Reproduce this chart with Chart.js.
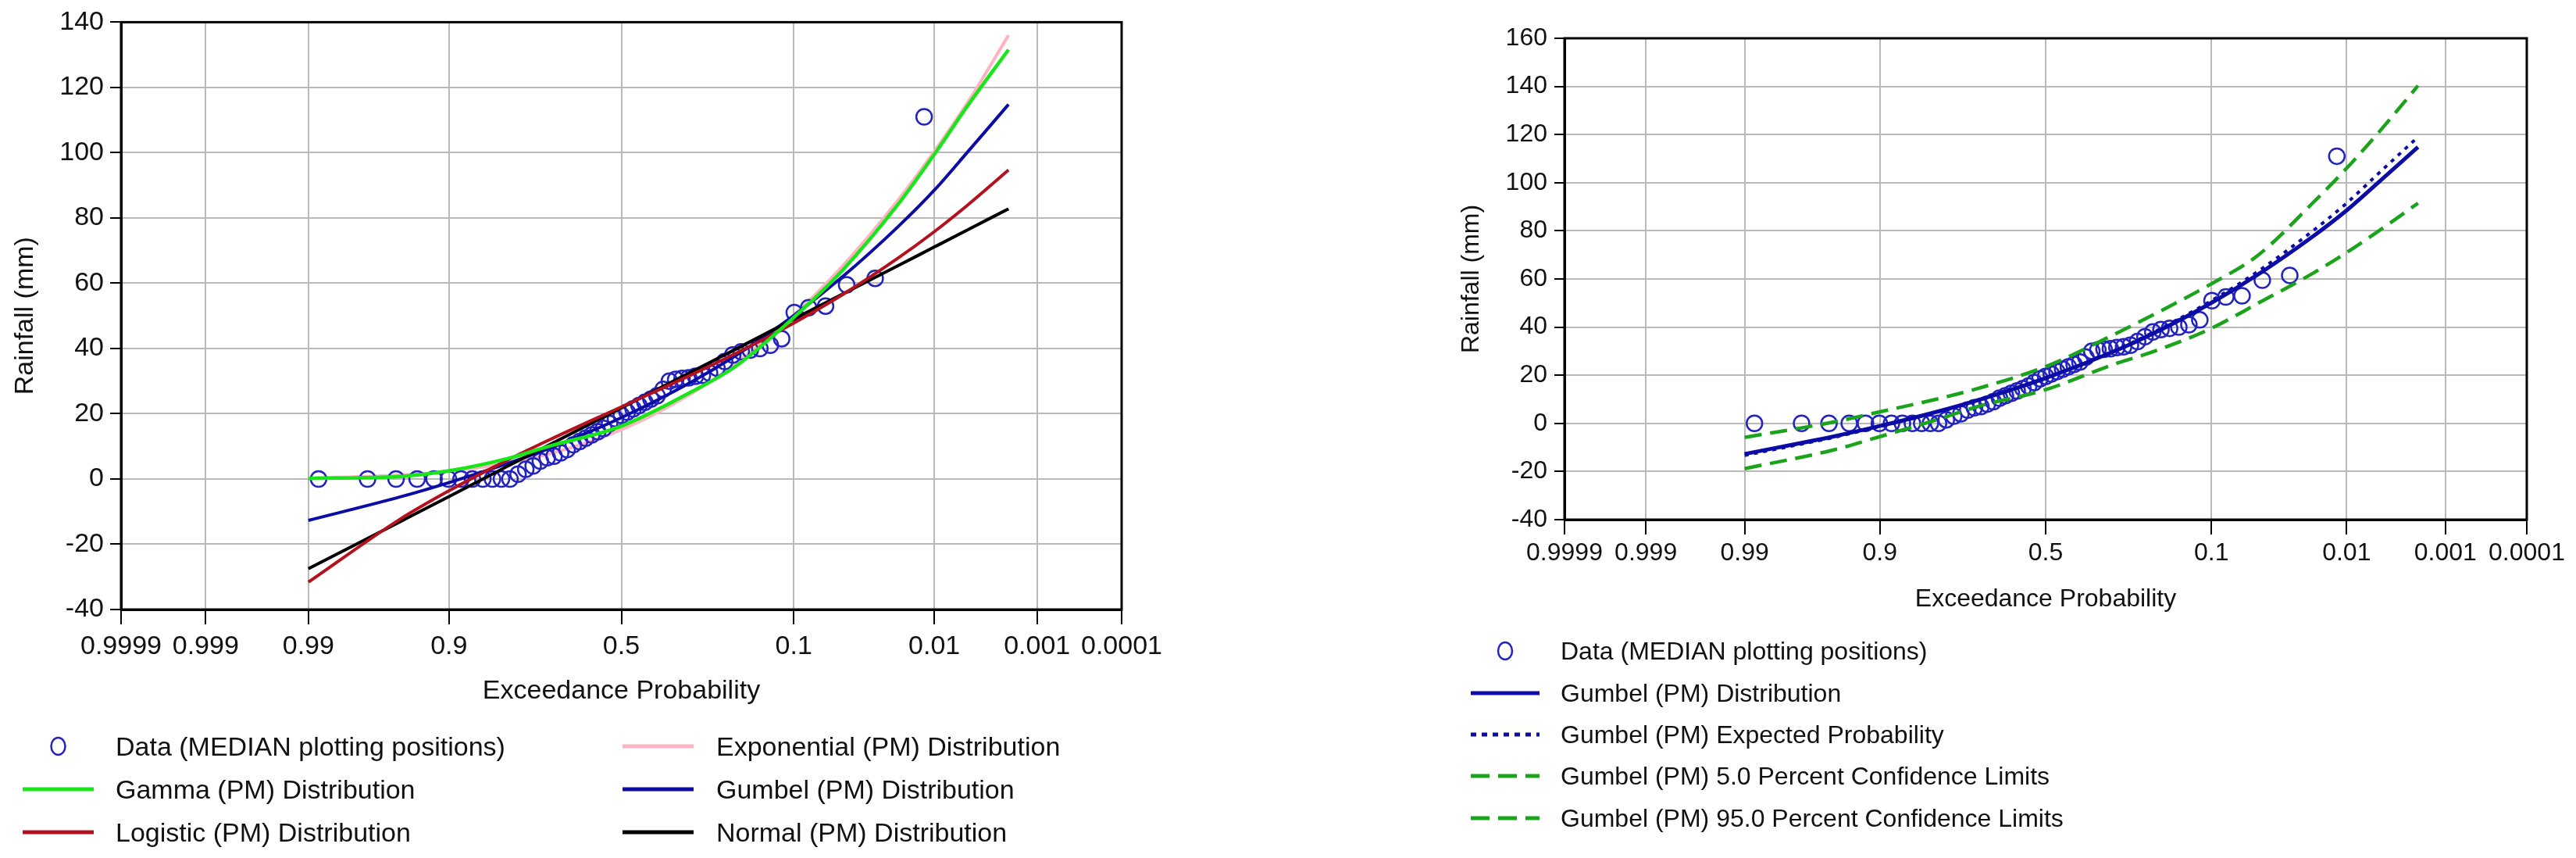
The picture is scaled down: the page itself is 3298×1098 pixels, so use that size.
<!DOCTYPE html>
<html>
<head>
<meta charset="utf-8">
<title>Rainfall frequency curves</title>
<script src="https://cdn.jsdelivr.net/npm/chart.js@4.4.1/dist/chart.umd.min.js"></script>
<style>
  body { margin: 0; width: 3298px; height: 1098px; overflow: hidden; position: relative; background: #fff;
         font-family: 'Liberation Sans', Arial, sans-serif; color: #111; }
  canvas { position: absolute; top: 0; }
  #leftChart { left: 0; }
  #rightChart { left: 1800px; }
  .lg { position: absolute; display: flex; align-items: center; white-space: nowrap; height: 50px; }
  .lg svg { flex: none; }
</style>
</head>
<body>
<canvas id="leftChart" width="1500" height="1098"></canvas>
<canvas id="rightChart" width="1498" height="1098"></canvas>
<div id="legends"></div>
<script>
// Probability axis ticks (exceedance probability)
var tickProbs = [0.9999, 0.999, 0.99, 0.9, 0.5, 0.1, 0.01, 0.001, 0.0001];
var tickLabels = ['0.9999', '0.999', '0.99', '0.9', '0.5', '0.1', '0.01', '0.001', '0.0001'];

// Observed rainfall (mm), largest first, with median plotting positions
var plotProbs = [0.0122, 0.0296, 0.0470, 0.0645, 0.0819, 0.0993, 0.1167, 0.1341, 0.1516, 0.1690,
                 0.1864, 0.2038, 0.2213, 0.2387, 0.2561, 0.2735, 0.2909, 0.3084, 0.3258, 0.3432,
                 0.3606, 0.3780, 0.3955, 0.4129, 0.4303, 0.4477, 0.4652, 0.4826, 0.5000, 0.5174,
                 0.5348, 0.5523, 0.5697, 0.5871, 0.6045, 0.6220, 0.6394, 0.6568, 0.6742, 0.6916,
                 0.7091, 0.7265, 0.7439, 0.7613, 0.7787, 0.7962, 0.8136, 0.8310, 0.8484, 0.8659,
                 0.8833, 0.9007, 0.9181, 0.9355, 0.9530, 0.9704, 0.9878];
var rainfall = [111, 61.5, 59.5, 53, 52.5, 51, 43, 41, 40, 39.5,
                39, 38, 36, 34, 32.5, 31.8, 31.5, 31, 30.8, 30.5,
                30, 27.5, 25.5, 24.5, 23.5, 22.5, 21.5, 20.5, 19.5, 18.5,
                17, 15.5, 14.5, 13.5, 12.5, 11.5, 10.5, 9, 8, 7,
                6.5, 5.5, 4, 3, 1.5, 0, 0, 0, 0, 0,
                0, 0, 0, 0, 0, 0, 0];

// Fitted curves, read at these exceedance probabilities
var curveProbs = [0.99, 0.95, 0.9, 0.8, 0.7, 0.5, 0.3, 0.2, 0.1, 0.05, 0.02, 0.01, 0.005, 0.002];
var exponentialPM = [0.3, 1.2, 2.4, 4.9, 7.8, 15.1, 26.3, 35.1, 50.2, 65.3, 85.3, 100.4, 115.5, 136.0];
var gammaPM       = [0.2, 0.8, 2.5, 6.3, 10.2, 16.2, 26.8, 34.3, 49.5, 64.0, 84.0, 99.5, 114.5, 131.6];
var gumbelPM      = [-12.7, -5.5, -1.1, 4.8, 9.6, 18.8, 29.8, 37.6, 50.1, 62.0, 77.2, 88.5, 100.3, 114.8];
var logisticPM    = [-31.6, -12.3, -3.6, 5.9, 12.2, 22.1, 32.0, 38.3, 47.8, 56.5, 67.6, 75.8, 84.0, 94.7];
var normalPM      = [-27.5, -13.1, -5.4, 4.0, 10.7, 21.8, 32.9, 39.6, 49.0, 56.7, 65.3, 71.1, 76.4, 82.8];
var gumbelExpected = [-13.3, -5.9, -1.3, 4.7, 9.6, 18.9, 30.1, 38.1, 51.0, 63.3, 79.5, 91.5, 104.0, 119.0];
var gumbelCL05    = [-5.8, 0.5, 4.8, 10.1, 14.5, 23.6, 36.8, 45.4, 58.0, 70.0, 91.0, 106.0, 121.0, 140.3];
var gumbelCL95    = [-18.8, -11.1, -5.5, 1.5, 7.0, 14.0, 24.5, 30.0, 39.5, 50.0, 62.0, 71.0, 80.0, 91.5];

// Inverse standard normal CDF (Acklam), used for the probability-paper axis
function normInv(p) {
    var a = [-3.969683028665376e+01, 2.209460984245205e+02, -2.759285104469687e+02, 1.383577518672690e+02, -3.066479806614716e+01, 2.506628277459239e+00];
    var b = [-5.447609879822406e+01, 1.615858368580409e+02, -1.556989798598866e+02, 6.680131188771972e+01, -1.328068155288572e+01];
    var c = [-7.784894002430293e-03, -3.223964580411365e-01, -2.400758277161838e+00, -2.549732539343734e+00, 4.374664141464968e+00, 2.938163982698783e+00];
    var d = [7.784695709041462e-03, 3.224671290700398e-01, 2.445134137142996e+00, 3.754408661907416e+00];
    var q, r;
    if (p < 0.02425) {
        q = Math.sqrt(-2 * Math.log(p));
        return (((((c[0]*q+c[1])*q+c[2])*q+c[3])*q+c[4])*q+c[5]) / ((((d[0]*q+d[1])*q+d[2])*q+d[3])*q+1);
    }
    if (p <= 1 - 0.02425) {
        q = p - 0.5; r = q * q;
        return (((((a[0]*r+a[1])*r+a[2])*r+a[3])*r+a[4])*r+a[5])*q / (((((b[0]*r+b[1])*r+b[2])*r+b[3])*r+b[4])*r+1);
    }
    q = Math.sqrt(-2 * Math.log(1 - p));
    return -(((((c[0]*q+c[1])*q+c[2])*q+c[3])*q+c[4])*q+c[5]) / ((((d[0]*q+d[1])*q+d[2])*q+d[3])*q+1);
}

// exceedance probability -> axis position
function probX(p) {
    return normInv(1 - p);
}

function toPoints(probs, values) {
    return probs.map(function(p, i) { return { x: probX(p), y: values[i] }; });
}

var FONT = "'Liberation Sans', Arial, sans-serif";
Chart.defaults.font.family = FONT;
Chart.defaults.color = '#111';

// Black frame round the plot area (top and right sides too)
var framePlugin = {
    id: 'frame',
    afterDatasetsDraw: function(chart) {
        var ctx = chart.ctx, a = chart.chartArea;
        ctx.save();
        ctx.strokeStyle = '#000';
        ctx.lineWidth = 3;
        ctx.strokeRect(a.left, a.top, a.right - a.left, a.bottom - a.top);
        ctx.restore();
    }
};

function dataSet(order) {
    return {
        label: 'Data (MEDIAN plotting positions)',
        data: toPoints(plotProbs, rainfall),
        showLine: false,
        pointStyle: 'circle',
        pointRadius: 10,
        pointBorderWidth: 2.5,
        pointBorderColor: '#2323c0',
        pointBackgroundColor: 'rgba(0,0,0,0)',
        order: order
    };
}

function curveSet(label, values, color, width, dash, order) {
    return {
        label: label,
        data: toPoints(curveProbs, values),
        showLine: true,
        pointRadius: 0,
        borderColor: color,
        borderWidth: width,
        borderDash: dash,
        cubicInterpolationMode: 'monotone',
        order: order
    };
}

function makeChart(id, datasets, cfg) {
    return new Chart(document.getElementById(id), {
        type: 'scatter',
        data: { datasets: datasets },
        options: {
            responsive: false,
            animation: false,
            events: [],
            layout: { padding: cfg.padding },
            plugins: { legend: { display: false }, tooltip: { enabled: false } },
            scales: {
                x: {
                    type: 'linear',
                    min: probX(tickProbs[0]),
                    max: probX(tickProbs[tickProbs.length - 1]),
                    afterBuildTicks: function(scale) {
                        scale.ticks = tickProbs.map(function(p) { return { value: probX(p) }; });
                    },
                    afterFit: function(scale) { scale.height = cfg.xHeight; },
                    ticks: {
                        callback: function(v, i) { return tickLabels[i]; },
                        autoSkip: false, maxRotation: 0, minRotation: 0,
                        padding: cfg.xPad, color: '#111', font: { size: cfg.font }
                    },
                    grid: { color: '#b9b9b9', lineWidth: 2, tickColor: '#000', tickWidth: 2, tickLength: 19 },
                    border: { color: '#000', width: 3 },
                    title: { display: true, text: 'Exceedance Probability', color: '#111',
                             font: { size: cfg.font }, padding: { top: 0, bottom: 0 } }
                },
                y: {
                    type: 'linear',
                    min: -40,
                    max: cfg.yMax,
                    afterFit: function(scale) { scale.width = cfg.yWidth; },
                    ticks: { stepSize: 20, padding: cfg.yPad, color: '#111', font: { size: cfg.font } },
                    grid: { color: '#b9b9b9', lineWidth: 2, tickColor: '#000', tickWidth: 2, tickLength: cfg.yTick },
                    border: { color: '#000', width: 3 },
                    title: { display: true, text: 'Rainfall (mm)', color: '#111',
                             font: { size: cfg.font }, padding: { top: cfg.yTitlePad, bottom: 0 } }
                }
            }
        },
        plugins: [framePlugin]
    });
}

// Left chart: all fitted distributions
var leftSets = [
    dataSet(3),
    curveSet('Exponential (PM) Distribution', exponentialPM, '#ffb3c1', 4, [], 7),
    curveSet('Gamma (PM) Distribution', gammaPM, '#19e619', 4.5, [], 0),
    curveSet('Gumbel (PM) Distribution', gumbelPM, '#0b0ba6', 4, [], 2),
    curveSet('Logistic (PM) Distribution', logisticPM, '#b4101e', 4, [], 1),
    curveSet('Normal (PM) Distribution', normalPM, '#000000', 4, [], 1)
];

// Right chart: Gumbel with expected probability and confidence limits
var rightSets = [
    dataSet(5),
    curveSet('Gumbel (PM) Distribution', gumbelPM, '#0b0ba6', 5, [], 2),
    curveSet('Gumbel (PM) Expected Probability', gumbelExpected, '#0b0ba6', 4, [5, 7], 1),
    curveSet('Gumbel (PM) 5.0 Percent Confidence Limits', gumbelCL05, '#1ba31b', 4.5, [22, 11], 3),
    curveSet('Gumbel (PM) 95.0 Percent Confidence Limits', gumbelCL95, '#1ba31b', 4.5, [22, 11], 4)
];

var leftChart = makeChart('leftChart', leftSets, {
    padding: { left: 0, top: 28, right: 64, bottom: 192.6 },
    xHeight: 125.4, xPad: 8, yWidth: 155, yPad: 8, yTick: 14, yTitlePad: 12, yMax: 140, font: 34
});
var rightChart = makeChart('rightChart', rightSets, {
    padding: { left: 0, top: 49, right: 63, bottom: 311.8 },
    xHeight: 121.2, xPad: 5, yWidth: 203, yPad: 9, yTick: 13, yTitlePad: 65, yMax: 160, font: 32
});

// HTML legends built from the datasets
function swatch(ds, w) {
    if (!ds.showLine) {
        return '<svg width="' + w + '" height="30"><ellipse cx="' + (w / 2) + '" cy="15" rx="9" ry="11" fill="none" stroke="' +
               ds.pointBorderColor + '" stroke-width="2.5"/></svg>';
    }
    var dash = ds.borderDash && ds.borderDash.length ? ' stroke-dasharray="' + (ds.borderDash[0] + 2) + ' ' + ds.borderDash[1] + '"' : '';
    return '<svg width="' + w + '" height="12"><line x1="0" y1="6" x2="' + w + '" y2="6" stroke="' + ds.borderColor +
           '" stroke-width="5"' + dash + '/></svg>';
}

function addLegendItem(ds, x, y, w, gap, size) {
    var div = document.createElement('div');
    div.className = 'lg';
    div.style.left = x + 'px';
    div.style.top = (y - 25) + 'px';
    div.style.fontSize = size + 'px';
    div.innerHTML = swatch(ds, w) + '<span style="margin-left:' + gap + 'px">' + ds.label + '</span>';
    document.getElementById('legends').appendChild(div);
}

// left legend: two columns, three rows
var leftOrder = [[0, 1], [2, 3], [4, 5]];
var leftRows = [955, 1010, 1065];
leftOrder.forEach(function(row, r) {
    addLegendItem(leftSets[row[0]], 29, leftRows[r], 91, 28, 34);
    addLegendItem(leftSets[row[1]], 797, leftRows[r], 91, 29, 34);
});

// right legend: one column
var rightRows = [833, 887, 940, 993, 1047];
[0, 1, 2, 3, 4].forEach(function(i) {
    addLegendItem(rightSets[i], 1883, rightRows[i], 88, 27, 32);
});
</script>
</body>
</html>
